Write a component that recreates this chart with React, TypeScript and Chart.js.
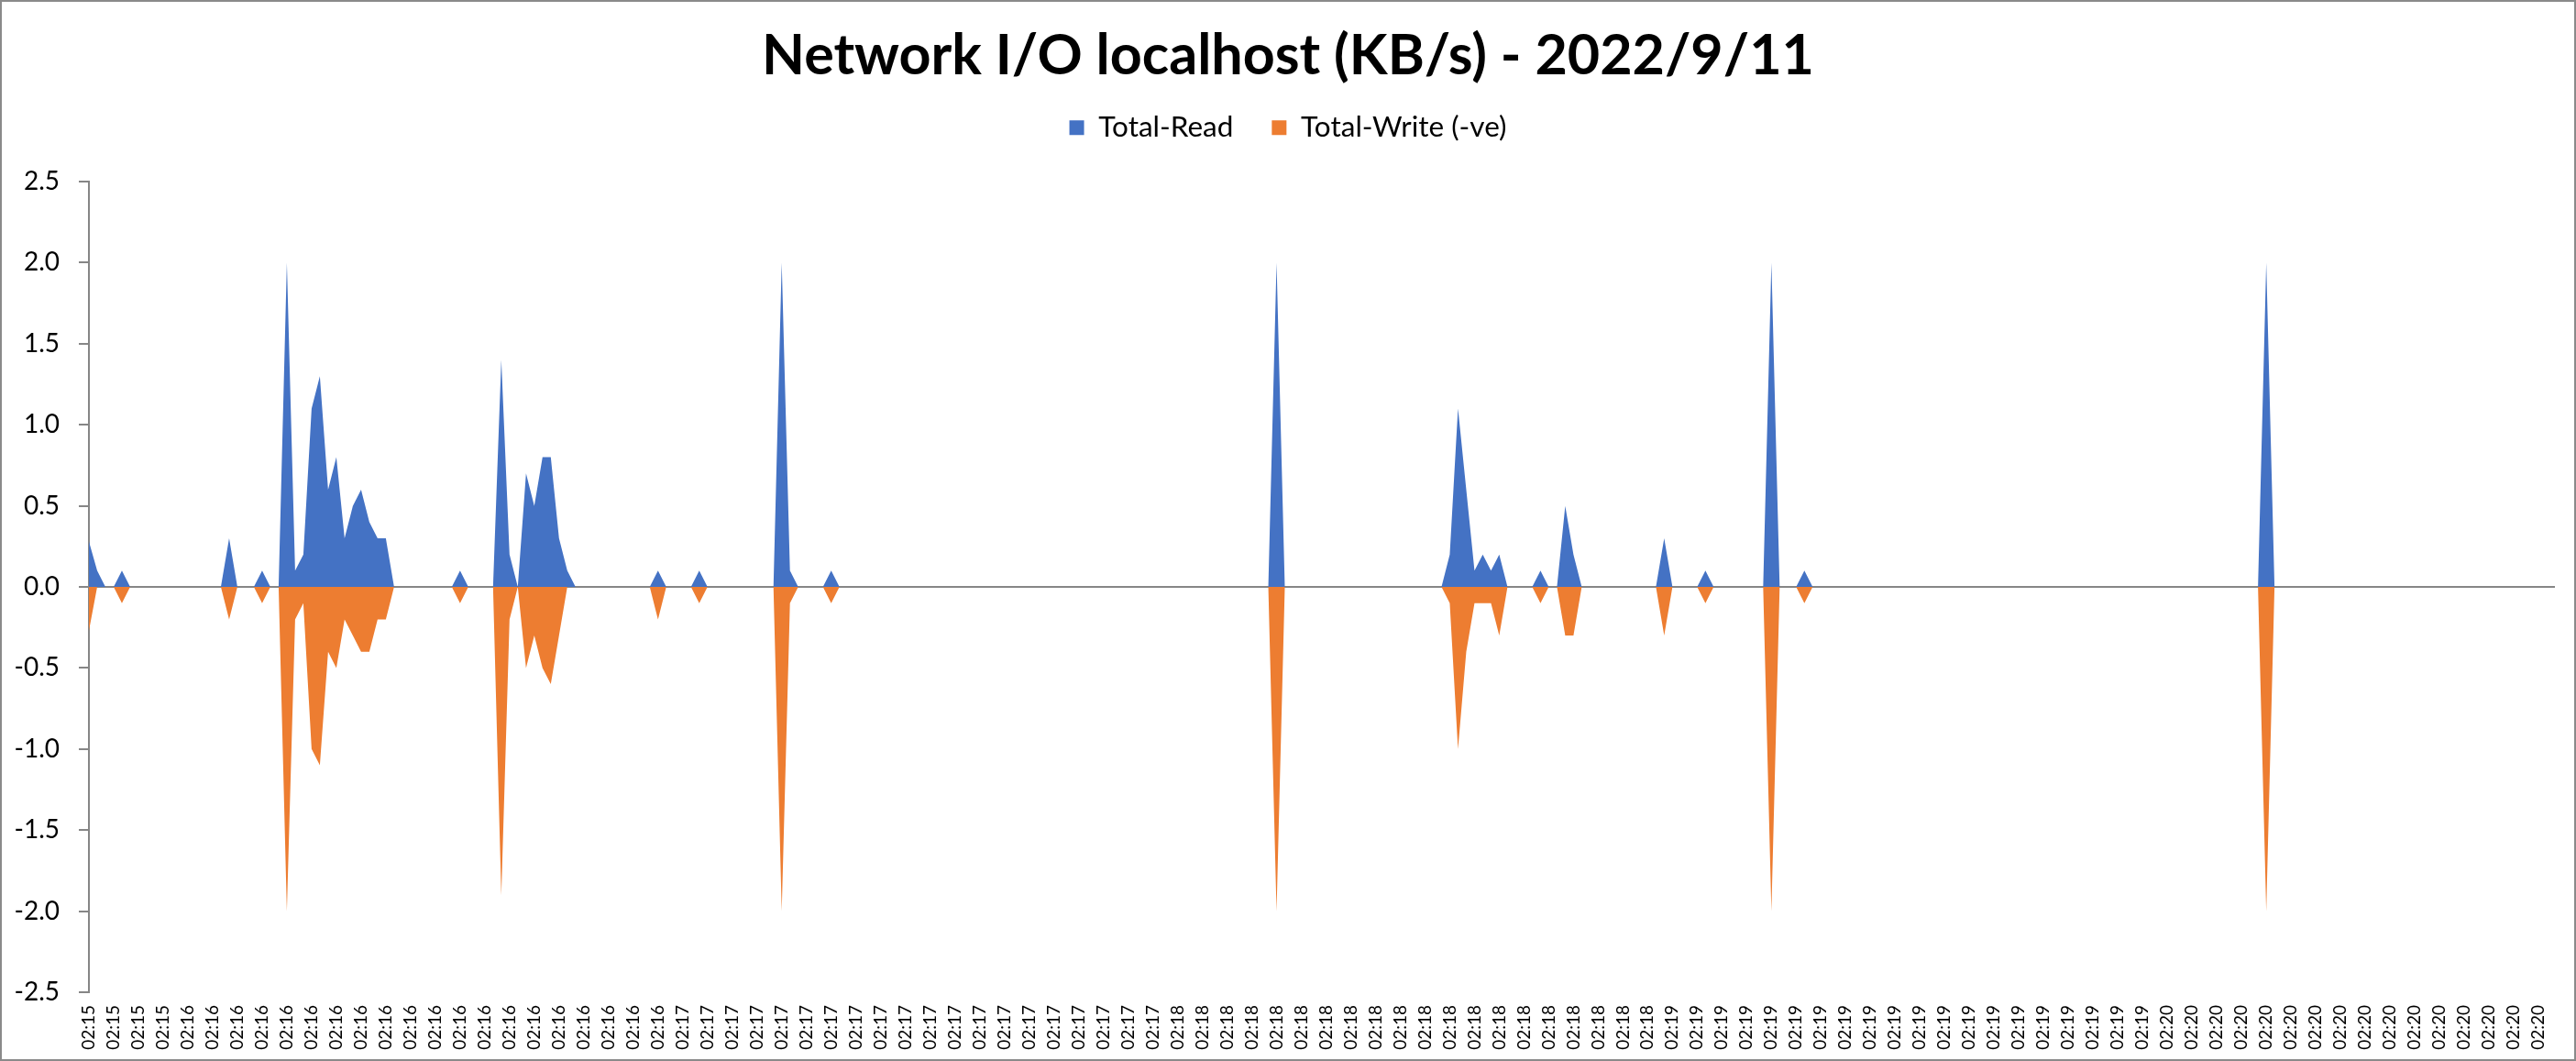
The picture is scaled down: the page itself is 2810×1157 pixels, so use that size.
import React, { useEffect, useRef } from 'react';
import { Chart, registerables } from 'chart.js';

Chart.register(...registerables);

// ---- data -------------------------------------------------------------
const TITLE = 'Network I/O localhost (KB/s) - 2022/9/11';
const SERIES_NAMES = ['Total-Read', 'Total-Write (-ve)'];
const SERIES_COLORS = ['#4472C4', '#ED7D31'];

// one sample per second, first sample at 02:15:48, 300 samples
const START_TIME = [2, 15, 48];
const SAMPLE_COUNT = 300;
const LABEL_EVERY = 3;

// non-zero samples (index into the time axis, KB/s)
const readIndex = [0, 1, 4, 17, 21, 24, 25, 26, 27, 28, 29, 30, 31, 32, 33, 34, 35, 36, 45, 50, 51, 53, 54, 55, 56, 57, 58, 69, 74, 84, 85, 90, 144, 165, 166, 167, 168, 169, 170, 171, 176, 179, 180, 191, 196, 204, 208, 264];
const readValue = [0.28, 0.1, 0.1, 0.3, 0.1, 2.0, 0.1, 0.2, 1.1, 1.3, 0.6, 0.8, 0.3, 0.5, 0.6, 0.4, 0.3, 0.3, 0.1, 1.4, 0.2, 0.7, 0.5, 0.8, 0.8, 0.3, 0.1, 0.1, 0.1, 2.0, 0.1, 0.1, 2.0, 0.2, 1.1, 0.6, 0.1, 0.2, 0.1, 0.2, 0.1, 0.5, 0.2, 0.3, 0.1, 2.0, 0.1, 2.0];

const writeIndex = [0, 4, 17, 21, 24, 25, 26, 27, 28, 29, 30, 31, 32, 33, 34, 35, 36, 45, 50, 51, 53, 54, 55, 56, 57, 69, 74, 84, 85, 90, 144, 165, 166, 167, 168, 169, 170, 171, 176, 179, 180, 191, 196, 204, 208, 264];
const writeValue = [-0.27, -0.1, -0.2, -0.1, -2.0, -0.2, -0.1, -1.0, -1.1, -0.4, -0.5, -0.2, -0.3, -0.4, -0.4, -0.2, -0.2, -0.1, -1.9, -0.2, -0.5, -0.3, -0.5, -0.6, -0.3, -0.2, -0.1, -2.0, -0.1, -0.1, -2.0, -0.1, -1.0, -0.4, -0.1, -0.1, -0.1, -0.3, -0.1, -0.3, -0.3, -0.3, -0.1, -2.0, -0.1, -2.0];

const Y_MIN = -2.5;
const Y_MAX = 2.5;
const Y_STEP = 0.5;

// ---- derived tables ---------------------------------------------------
function buildCategories(): string[] {
  const out: string[] = [];
  const base = START_TIME[0] * 3600 + START_TIME[1] * 60 + START_TIME[2];
  for (let i = 0; i < SAMPLE_COUNT; i++) {
    const t = base + i;
    const h = Math.floor(t / 3600);
    const m = Math.floor((t % 3600) / 60);
    out.push(String(h).padStart(2, '0') + ':' + String(m).padStart(2, '0'));
  }
  return out;
}

function buildSeries(idx: number[], val: number[]): number[] {
  const arr: number[] = new Array(SAMPLE_COUNT).fill(0);
  idx.forEach((k, j) => {
    arr[k] = val[j];
  });
  return arr;
}

const categories = buildCategories();
const readSeries = buildSeries(readIndex, readValue);
const writeSeries = buildSeries(writeIndex, writeValue);

const FONT = 'Lato';
const AXIS_GRAY = '#868686';

export default function App() {
  const canvasRef = useRef<HTMLCanvasElement | null>(null);

  useEffect(() => {
    document.body.style.margin = '0';
    const canvas = canvasRef.current;
    if (!canvas) return;
    const chart = new Chart(canvas, {
      type: 'line',
      data: {
        labels: categories,
        datasets: [
          {
            label: SERIES_NAMES[0],
            data: readSeries,
            backgroundColor: SERIES_COLORS[0],
            borderColor: 'rgba(0,0,0,0)',
            borderWidth: 0,
            fill: 'origin',
            pointRadius: 0,
            tension: 0,
          },
          {
            label: SERIES_NAMES[1],
            data: writeSeries,
            backgroundColor: SERIES_COLORS[1],
            borderColor: 'rgba(0,0,0,0)',
            borderWidth: 0,
            fill: 'origin',
            pointRadius: 0,
            tension: 0,
          },
        ],
      },
      options: {
        responsive: false,
        animation: false,
        events: [],
        layout: { padding: 0 },
        plugins: {
          title: {
            display: true,
            text: TITLE,
            color: '#000',
            font: { family: FONT, size: 61, weight: 'bold', lineHeight: 0.665 },
            padding: { top: 41, bottom: 0 },
          },
          subtitle: {
            display: true,
            text: '',
            weight: 500,
            padding: 0,
            font: { size: 33, lineHeight: 1 },
          } as any,
          legend: {
            display: true,
            position: 'top',
            labels: {
              boxWidth: 16,
              boxHeight: 16,
              padding: 42,
              color: '#000',
              font: { family: FONT, size: 31.5 },
            },
          },
          tooltip: { enabled: false },
        },
        scales: {
          x: {
            type: 'category',
            offset: false,
            grid: { display: false, drawTicks: false },
            border: { display: false },
            ticks: {
              autoSkip: false,
              minRotation: 90,
              maxRotation: 90,
              padding: 14,
              color: '#000',
              font: { family: FONT, size: 19 },
              callback: (_v: any, i: number) => (i % LABEL_EVERY === 0 ? categories[i] : null),
            },
            afterFit: (s: any) => {
              s.height = 75;
            },
          },
          y: {
            min: Y_MIN,
            max: Y_MAX,
            ticks: {
              stepSize: Y_STEP,
              padding: 21,
              color: '#000',
              font: { family: FONT, size: 28 },
              callback: (v: any) => Number(v).toFixed(1),
            },
            grid: {
              drawOnChartArea: true,
              color: (ctx: any) => (ctx.tick && ctx.tick.value === 0 ? AXIS_GRAY : 'rgba(0,0,0,0)'),
              lineWidth: 2,
              tickLength: 11,
              tickColor: AXIS_GRAY,
              tickWidth: 2,
            },
            border: { display: true, color: AXIS_GRAY, width: 2 },
            afterFit: (s: any) => {
              s.width = 97;
            },
          },
          // empty right-hand spacer so the plot ends where the reference's does
          ySpacer: {
            position: 'right',
            min: Y_MIN,
            max: Y_MAX,
            grid: { display: false, drawTicks: false },
            border: { display: false },
            ticks: { display: false },
            afterFit: (s: any) => {
              s.width = 23;
            },
          },
        },
      } as any,
    });
    return () => chart.destroy();
  }, []);

  return (
    <div style={{ position: 'relative', width: 2810, height: 1157, background: '#fff' }}>
      <canvas ref={canvasRef} width={2810} height={1157} style={{ display: 'block' }} />
      <div
        style={{
          position: 'absolute',
          inset: 0,
          border: '2px solid #8a8a8a',
          pointerEvents: 'none',
        }}
      />
    </div>
  );
}
